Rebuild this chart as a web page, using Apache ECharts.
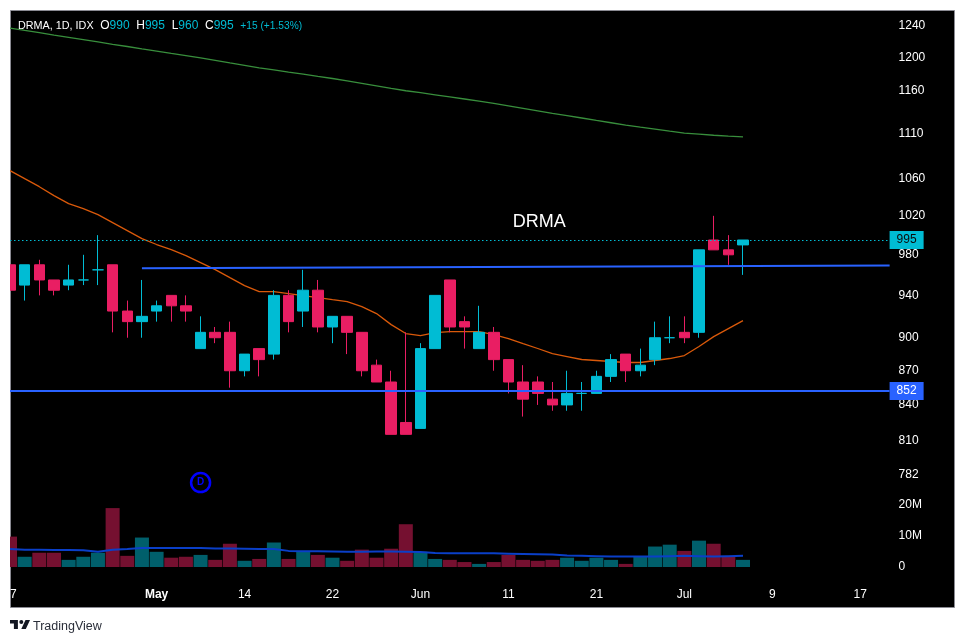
<!DOCTYPE html>
<html>
<head>
    <meta charset="utf-8">
    <title>DRMA</title>
    <script src="https://cdn.jsdelivr.net/npm/echarts@6/dist/echarts.min.js"></script>
    <style>
        html, body { margin: 0; padding: 0; background: #ffffff; }
        #chart { width: 965px; height: 643px; }
    </style>
</head>
<body>
<div id="chart"></div>
<script>
    var categories = [
        '04-17', '04-18', '04-19', '04-22', '04-23', '04-24', '04-25', '04-26', '04-29', '04-30',
        '05-02', '05-03', '05-06', '05-07', '05-08', '05-13', '05-14', '05-15', '05-16', '05-17',
        '05-20', '05-21', '05-22', '05-27', '05-28', '05-29', '05-30', '05-31', '06-03', '06-04',
        '06-05', '06-06', '06-07', '06-10', '06-11', '06-12', '06-13', '06-14', '06-19', '06-20',
        '06-21', '06-24', '06-25', '06-26', '06-27', '06-28', '07-01', '07-02', '07-03', '07-04',
        '07-05', '07-08', '07-09', '07-10', '07-11', '07-12', '07-15', '07-16', '07-17', '07-18', '07-19'
    ];
    var opens = [
        970, 950, 970, 955, 950, 955, 965, 970, 925, 915,
        925, 940, 930, 890, 905, 905, 870, 890, 885, 940,
        925, 945, 910, 920, 905, 875, 860, 825, 820, 890,
        955, 915, 890, 905, 880, 860, 860, 845, 840, 850,
        850, 865, 885, 870, 880, 900, 905, 905, 995, 985, 990
    ];
    var closes = [
        945, 970, 955, 945, 955, 955, 965, 925, 915, 920,
        930, 930, 925, 905, 900, 870, 885, 880, 940, 915,
        945, 910, 920, 905, 870, 860, 815, 815, 890, 940,
        910, 910, 905, 880, 860, 845, 850, 840, 850, 850,
        865, 880, 870, 875, 900, 900, 900, 985, 985, 980, 995
    ];
    var lows = [
        945, 935, 940, 940, 945, 950, 950, 905, 900, 900,
        915, 915, 915, 890, 895, 855, 865, 865, 880, 905,
        910, 905, 895, 885, 865, 860, 815, 815, 820, 890,
        905, 890, 890, 870, 850, 830, 840, 835, 835, 835,
        850, 860, 860, 865, 875, 895, 895, 900, 985, 970, 960
    ];
    var highs = [
        1015, 970, 975, 955, 970, 980, 1000, 970, 935, 955,
        935, 940, 940, 920, 910, 915, 885, 890, 945, 945,
        965, 955, 920, 920, 905, 880, 870, 905, 895, 940,
        955, 920, 930, 910, 880, 875, 865, 860, 870, 860,
        870, 885, 885, 890, 915, 920, 920, 985, 1020, 1000, 995
    ];
    var volumes = [
        9.8, 3.3, 4.6, 4.6, 2.3, 3.3, 4.6, 19.0, 3.6, 9.5,
        4.9, 3.0, 3.3, 3.9, 2.3, 7.5, 2.0, 2.6, 7.9, 2.6,
        5.2, 3.9, 3.0, 2.0, 5.6, 3.0, 5.9, 13.8, 4.9, 2.6,
        2.3, 1.6, 1.0, 1.6, 3.9, 2.3, 2.0, 2.3, 3.0, 2.0,
        3.0, 2.3, 1.0, 3.3, 6.6, 7.2, 5.2, 8.5, 7.5, 3.6, 2.3
    ];
    var volumeMa = [
        5.8, 5.6, 5.6, 5.5, 5.5, 5.4, 4.9, 5.6, 5.8, 6.1,
        6.1, 6.1, 6.1, 6.1, 6.0, 6.0, 5.9, 5.8, 5.8, 5.2,
        5.1, 5.1, 5.0, 4.9, 4.9, 5.0, 5.0, 4.9, 4.8, 4.5,
        4.4, 4.4, 4.4, 4.4, 4.3, 4.2, 4.1, 4.0, 3.7, 3.6,
        3.5, 3.4, 3.4, 3.4, 3.4, 3.5, 3.6, 3.5, 3.4, 3.5, 3.6
    ];
    var ma20 = [
        1068.5, 1059.7, 1051.0, 1041.4, 1032.9, 1027.6, 1021.3, 1012.9, 1004.7, 996.4,
        990.4, 985.3, 979.2, 972.2, 965.2, 957.3, 949.5, 943.6, 943.6, 941.7,
        939.8, 937.9, 935.9, 934.0, 929.2, 922.6, 912.2, 903.9, 901.9, 904.7,
        905.7, 905.7, 905.7, 902.9, 899.2, 894.6, 890.1, 885.5, 882.8, 880.1,
        879.2, 878.3, 877.4, 877.4, 879.2, 881.0, 883.7, 891.9, 901.0, 908.5, 916.0
    ];
    var ma200 = [
        1236.8, 1233.9, 1231.1, 1228.1, 1225.2, 1222.3, 1219.4, 1216.5, 1213.7, 1210.8,
        1208.0, 1205.1, 1202.4, 1199.6, 1196.5, 1193.4, 1190.5, 1187.4, 1185.0, 1182.3,
        1179.8, 1177.1, 1174.5, 1171.7, 1168.7, 1165.7, 1162.7, 1159.8, 1157.5, 1155.0,
        1152.5, 1150.0, 1147.5, 1144.8, 1142.0, 1139.1, 1136.2, 1133.2, 1130.6, 1127.8,
        1125.0, 1122.3, 1119.6, 1117.2, 1114.9, 1112.6, 1110.4, 1109.2, 1108.0, 1107.0, 1106.1
    ];
    var priceTicks = [1240, 1200, 1160, 1110, 1060, 1020, 980, 940, 900, 870, 840, 810, 782];
    var dateTickIndex = [0, 10, 16, 22, 28, 34, 40, 46, 52, 58];
    var dateTickLabels = ['17', '{m|May}', '14', '22', 'Jun', '11', '21', 'Jul', '9', '17'];

    var UP = '#00bcd4', DOWN = '#e91e63';
    var VOL_UP = '#005f6b', VOL_DOWN = '#751030';
    var FONT = '"Liberation Sans", Arial, sans-serif';

    var candles = opens.map(function (o, i) {
        return [o, closes[i], lows[i], highs[i]];
    });

    var chart = echarts.init(document.getElementById('chart'));

    chart.setOption({
        animation: false,
        backgroundColor: '#ffffff',
        textStyle: {fontFamily: FONT},
        graphic: [
            {
                type: 'rect', z: -10,
                shape: {x: 10.5, y: 10.5, width: 944, height: 597},
                style: {fill: '#000000', stroke: '#8a8a92', lineWidth: 1}
            },
            // the first candle and bar are cut by the pane edge
            {
                type: 'rect', z: 50,
                shape: {x: 0, y: 0, width: 10, height: 643},
                style: {fill: '#ffffff'}
            },
            // TradingView logo
            {
                type: 'polygon', z: 60,
                shape: {points: [[10, 620], [17.9, 620], [17.9, 629], [13.9, 629], [13.9, 623.5], [10, 623.5]]},
                style: {fill: '#131722'}
            },
            {
                type: 'polygon', z: 60,
                shape: {points: [[25.5, 620], [30, 620], [25.8, 629], [21.3, 629]]},
                style: {fill: '#131722'}
            },
            {
                type: 'circle', z: 60,
                shape: {cx: 21.3, cy: 622, r: 2},
                style: {fill: '#131722'}
            },
            {
                type: 'text', z: 60, x: 33, y: 620,
                style: {text: 'TradingView', fill: '#2a2e39', font: '12.5px ' + FONT}
            }
        ],
        title: {
            left: 18, top: 20, padding: 0,
            text: '{a|DRMA, 1D, IDX}{w|  O}{c|990}{w|  H}{c|995}{w|  L}{c|960}{w|  C}{c|995}{w|  }{d|+15 (+1.53%)}',
            textStyle: {
                rich: {
                    a: {color: '#ffffff', fontSize: 10.8, fontWeight: 'normal', fontFamily: FONT},
                    w: {color: '#ffffff', fontSize: 12, fontWeight: 'normal', fontFamily: FONT},
                    c: {color: UP, fontSize: 12, fontWeight: 'normal', fontFamily: FONT},
                    d: {color: UP, fontSize: 10.2, fontWeight: 'normal', fontFamily: FONT}
                }
            }
        },
        grid: [
            {left: 10, right: 75.4, top: 11.6, height: 489},
            {left: 10, right: 75.4, top: 505, height: 62}
        ],
        xAxis: [
            {
                type: 'category', gridIndex: 0, data: categories, boundaryGap: false,
                axisLine: {show: false}, axisTick: {show: false}, axisLabel: {show: false},
                splitLine: {show: false}
            },
            {
                type: 'category', gridIndex: 1, data: categories, boundaryGap: false,
                axisLine: {show: false}, axisTick: {show: false}, splitLine: {show: false},
                axisLabel: {
                    color: '#ffffff', fontSize: 12, margin: 22, hideOverlap: false,
                    rich: {m: {color: '#ffffff', fontSize: 12, fontWeight: 'bold', fontFamily: FONT}},
                    interval: function (index) {
                        return dateTickIndex.indexOf(index) >= 0;
                    },
                    formatter: function (value, index) {
                        return dateTickLabels[dateTickIndex.indexOf(index)];
                    }
                }
            }
        ],
        yAxis: [
            {
                type: 'log', gridIndex: 0, position: 'right', min: 761.4, max: 1258,
                axisLine: {show: false}, axisTick: {show: false}, splitLine: {show: false},
                minorTick: {show: false}, minorSplitLine: {show: false},
                axisLabel: {
                    color: '#ffffff', fontSize: 12, margin: 9, hideOverlap: false,
                    padding: [2, 0, 0, 0],
                    customValues: priceTicks,
                    formatter: function (value) { return String(Math.round(value)); }
                }
            },
            {
                type: 'value', gridIndex: 1, position: 'right', min: 0, max: 20, interval: 10,
                axisLine: {show: false}, axisTick: {show: false}, splitLine: {show: false},
                axisLabel: {
                    color: '#ffffff', fontSize: 12, margin: 9,
                    padding: [2, 0, 0, 0],
                    formatter: function (value) { return value === 0 ? '0' : value + 'M'; }
                }
            }
        ],
        series: [
            {
                name: 'Volume', type: 'bar', xAxisIndex: 1, yAxisIndex: 1,
                barWidth: 14,
                data: volumes,
                itemStyle: {
                    color: function (p) {
                        return closes[p.dataIndex] >= opens[p.dataIndex] ? VOL_UP : VOL_DOWN;
                    }
                }
            },
            {
                name: 'Volume MA', type: 'line', xAxisIndex: 1, yAxisIndex: 1, z: 3,
                data: volumeMa, symbol: 'none',
                lineStyle: {color: '#0a3fc8', width: 2}
            },
            {
                name: 'MA 200', type: 'line', xAxisIndex: 0, yAxisIndex: 0, z: 1,
                data: ma200, symbol: 'none',
                lineStyle: {color: '#388e3c', width: 1.3}
            },
            {
                name: 'MA 20', type: 'line', xAxisIndex: 0, yAxisIndex: 0, z: 1,
                data: ma20, symbol: 'none',
                lineStyle: {color: '#d9590a', width: 1.3}
            },
            {
                name: 'DRMA', type: 'candlestick', xAxisIndex: 0, yAxisIndex: 0, z: 2,
                barWidth: 11,
                data: candles,
                itemStyle: {
                    color: UP, color0: DOWN,
                    borderColor: UP, borderColor0: DOWN, borderColorDoji: UP,
                    borderWidth: 1
                },
                markLine: {
                    silent: true, symbol: 'none', animation: false, precision: 2,
                    data: [
                        {
                            yAxis: 995,
                            lineStyle: {color: UP, width: 1, type: [1.5, 2.5]},
                            label: {
                                show: true, position: 'end', formatter: '995', distance: 0,
                                color: '#0b0b0b', backgroundColor: UP, fontSize: 12,
                                padding: [3, 7, 3, 7]
                            }
                        },
                        {
                            yAxis: 852,
                            lineStyle: {color: '#2962ff', width: 2, type: 'solid'},
                            label: {
                                show: true, position: 'end', formatter: '852', distance: 0,
                                color: '#ffffff', backgroundColor: '#2962ff', fontSize: 12,
                                padding: [3, 7, 3, 7]
                            }
                        },
                        [
                            {coord: [categories[9], 966.5], lineStyle: {color: '#2962ff', width: 2, type: 'solid'}, label: {show: false}},
                            {coord: [categories[60], 969.2]}
                        ]
                    ]
                },
                markPoint: {
                    silent: true, animation: false,
                    data: [
                        {
                            coord: [categories[36], 1014], symbol: 'circle', symbolSize: 1,
                            itemStyle: {color: 'rgba(0,0,0,0)'},
                            label: {show: true, position: 'inside', formatter: 'DRMA', color: '#ffffff', fontSize: 18, offset: [1.5, 0]}
                        },
                        {
                            coord: [categories[13], 775.6], symbol: 'circle', symbolSize: 19,
                            itemStyle: {color: '#000000', borderColor: '#0000ff', borderWidth: 2.5},
                            label: {show: true, position: 'inside', formatter: 'D', color: '#0000ff', fontSize: 10, fontWeight: 'bold'}
                        }
                    ]
                }
            }
        ]
    });
</script>
</body>
</html>
